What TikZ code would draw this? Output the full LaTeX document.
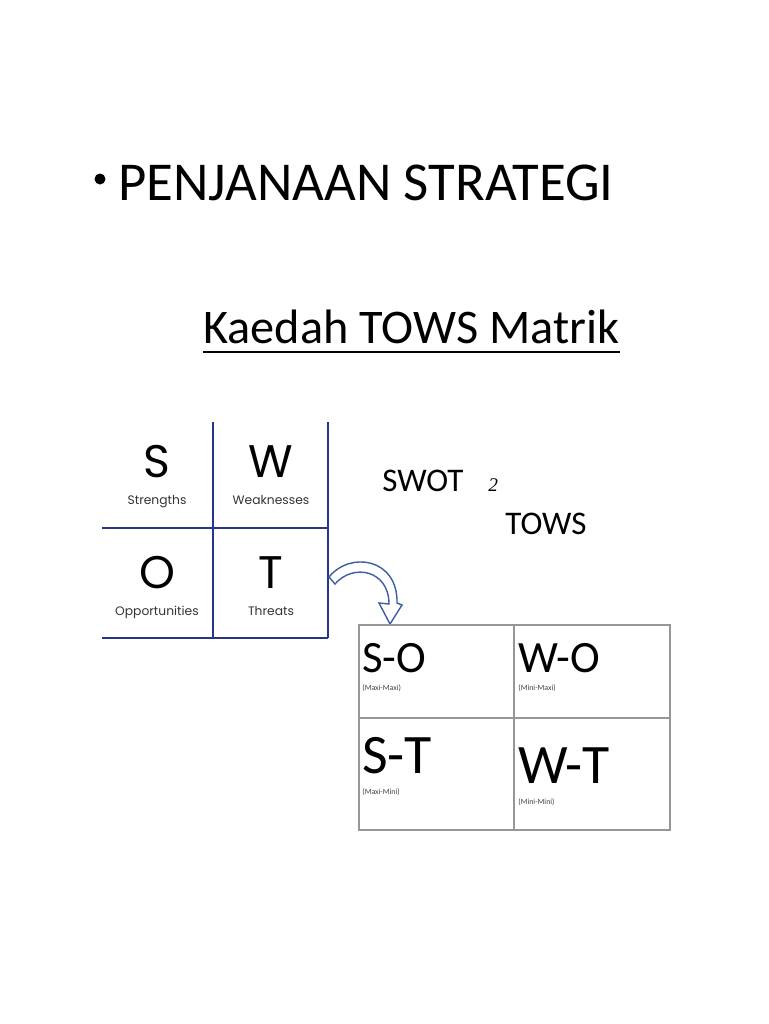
\documentclass[tikz,border=0pt]{standalone}
\usepackage{fontspec}
\setmainfont{Carlito}
\newfontfamily\gridfont{Poppins}
\newfontfamily\numfont{Liberation Serif}
\usetikzlibrary{positioning}
\definecolor{swotblue}{RGB}{40,52,140}
\definecolor{towsgray}{RGB}{150,150,150}
\definecolor{arrowblue}{RGB}{60,95,160}

\begin{document}
\begin{tikzpicture}[x=0.02cm, y=-0.02cm,
                bigtext/.style={anchor=base west, inner sep=0pt, font=\fontsize{31.2}{38}\selectfont},
                headtext/.style={anchor=base west, inner sep=0pt, font=\fontsize{27.5}{32}\selectfont},
                swottext/.style={anchor=base west, inner sep=0pt, font=\fontsize{18.8}{22}\selectfont},
                swotletter/.style={anchor=base, inner sep=0pt, font=\gridfont\fontsize{26}{30}\selectfont},
                swotword/.style={anchor=base, inner sep=0pt, font=\gridfont\fontsize{7}{8}\selectfont, black!80},
                towsletter/.style={anchor=base west, inner sep=0pt, font=\fontsize{25.5}{30}\selectfont},
                towsbig/.style={anchor=base west, inner sep=0pt, font=\fontsize{31.7}{36}\selectfont},
                towsnote/.style={anchor=base west, inner sep=0pt, font=\fontsize{4.5}{5}\selectfont, black!75},
                ]
    \useasboundingbox (0,0) rectangle (768,1024);

    % tajuk
    \fill (100,179) circle (5.5);
    \node[bigtext] (title) at (118,200) {PENJANAAN STRATEGI};
    \node[headtext] (head) at (203,343) {Kaedah TOWS Matrik};
    \draw[line width=1.3pt] (head.base west) ++(0,9) -- ++(417,0);

    % SWOT
    \draw[swotblue, line width=1.1pt] (102,528) -- (328,528);
    \draw[swotblue, line width=1.1pt] (102,638) -- (328,638);
    \draw[swotblue, line width=1.1pt] (213,422) -- (213,638);
    \draw[swotblue, line width=1.1pt] (328,422) -- (328,638);

    \node[swotletter] (S) at (157,477) {S};
    \node[swotword] (Sw) at (157,504) {Strengths};
    \node[swotletter] (W) at (271,477) {W};
    \node[swotword] (Ww) at (271,504) {Weaknesses};
    \node[swotletter] (O) at (157,588) {O};
    \node[swotword] (Ow) at (157,615) {Opportunities};
    \node[swotletter] (T) at (271,588) {T};
    \node[swotword] (Tw) at (271,615) {Threats};

    \node[swottext] (swot) at (382,491) {SWOT};
    \node[anchor=base west, inner sep=0pt, font=\numfont\itshape\fontsize{11}{12}\selectfont] (two) at (488,491) {2};
    \node[swottext] (tows) at (505,534) {TOWS};

    % anak panah
    \draw[arrowblue, line width=0.8pt, fill=white]
        (329,577) .. controls (350,551) and (398,558) .. (397,603)
        -- (402,605) -- (390,624) -- (379,603) -- (389,604)
        .. controls (389,570) and (353,563) .. (335,584) -- cycle;

    % TOWS
    \draw[towsgray, line width=0.6pt] (359,625) rectangle (670,830);
    \draw[towsgray, line width=0.6pt] (514,625) -- (514,830);
    \draw[towsgray, line width=0.6pt] (359,718) -- (670,718);

    \node[towsletter] (SO) at (362,672) {S-O};
    \node[towsnote] (SOn) at (362,690) {(Maxi-Maxi)};
    \node[towsletter] (WO) at (518,672) {W-O};
    \node[towsnote] (WOn) at (518,690) {(Mini-Maxi)};
    \node[towsbig] (ST) at (362,773) {S-T};
    \node[towsnote] (STn) at (362,794) {(Maxi-Mini)};
    \node[towsbig] (WT) at (518,783) {W-T};
    \node[towsnote] (WTn) at (518,804) {(Mini-Mini)};
\end{tikzpicture}
\end{document}
